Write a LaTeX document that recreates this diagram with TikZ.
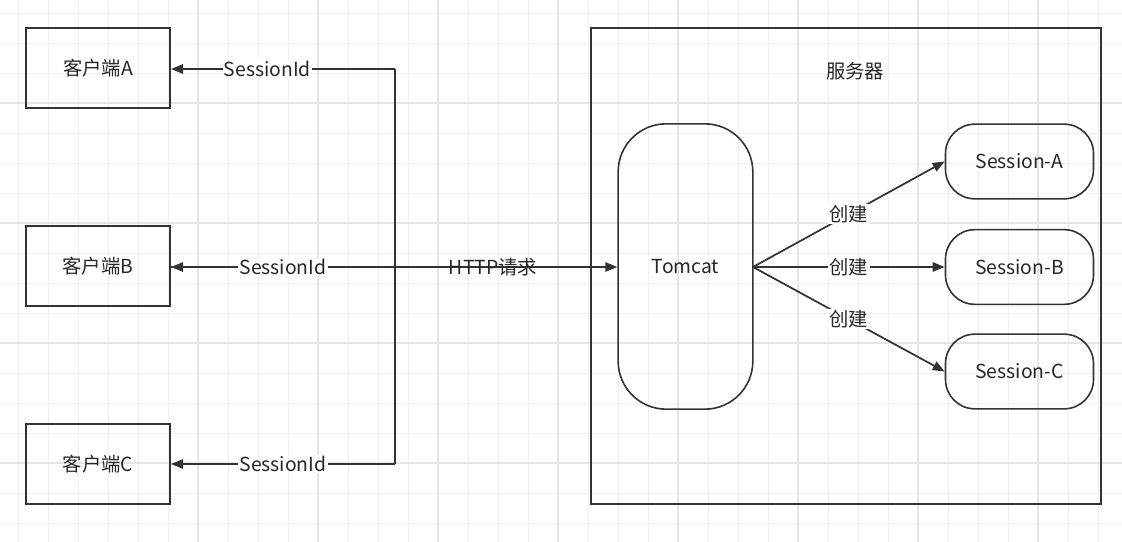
\documentclass[tikz,border=0pt]{standalone}
\usepackage{fontspec}
\setmainfont{Noto Sans CJK SC}
\usetikzlibrary{arrows.meta}
\tikzset{
  box/.style={draw=black!80, line width=1.5pt, minimum width=108pt, minimum height=60pt, inner sep=0pt},
  sess/.style={draw=black!80, line width=1.2pt, rounded corners=22pt, minimum width=111pt, minimum height=56pt, inner sep=0pt},
  link/.style={draw=black!80, line width=1.3pt, -{Triangle[length=9pt,width=7pt]}},
  lbl/.style={fill=white, inner sep=1pt}
}
\begin{document}
\begin{tikzpicture}[x=0.75pt, y=-0.75pt, font=\fontsize{14.5}{17}\selectfont, text=black!85]
      \useasboundingbox (0,0) rectangle (1122,542);
      % background grid
      \foreach \gx in {18,48,...,1120} {
          \draw[black!6, line width=0.6pt] (\gx,0) -- (\gx,542);
        }
      \foreach \gy in {13,43,...,540} {
          \draw[black!6, line width=0.6pt] (0,\gy) -- (1122,\gy);
        }
      \foreach \gx in {198,318,...,1120} {
          \draw[black!10, line width=0.8pt] (\gx,0) -- (\gx,542);
        }
      \foreach \gy in {103,223,...,540} {
          \draw[black!10, line width=0.8pt] (0,\gy) -- (1122,\gy);
        }
      % clients
      \node[box] (cA) at (98,68) {客户端A};
      \node[box] (cB) at (98,266) {客户端B};
      \node[box] (cC) at (98,464) {客户端C};
      % server
      \node[draw=black!80, line width=1.5pt, minimum width=382pt, minimum height=357pt, inner sep=0pt] (server) at (846,266) {};
      \node at (855,71) {服务器};
      \node[draw=black!80, line width=1.2pt, rounded corners=36pt, minimum width=101pt, minimum height=214pt, inner sep=0pt] (tomcat) at (685.5,266.5) {Tomcat};
      \node[sess] (sA) at (1019.5,161.5) {Session-A};
      \node[sess] (sB) at (1019.5,267) {Session-B};
      \node[sess] (sC) at (1019.5,371.5) {Session-C};
      % junction
      \coordinate (jA) at (395,69);
      \coordinate (jB) at (395,267);
      \coordinate (jC) at (395,464);
      \draw[link] (cB.east |- jB) -- (tomcat.west |- jB);
      \node at (493,267) {HTTP请求};
      \draw[draw=black!80, line width=1.3pt] (jA) -- (jC);
      \draw[link] (jA) -- node[lbl, pos=0.57] {SessionId} (cA.east |- jA);
      \draw[link] (jB) -- node[lbl, pos=0.5] {SessionId} (cB.east |- jB);
      \draw[link] (jC) -- node[lbl, pos=0.5] {SessionId} (cC.east |- jC);
      % create sessions
      \coordinate (tc) at (753,267);
      \draw[link] (tc) -- node[lbl] {创建} (sA.west);
      \draw[link] (tc) -- node[lbl] {创建} (sB.west);
      \draw[link] (tc) -- node[lbl] {创建} (sC.west);
\end{tikzpicture}
\end{document}
